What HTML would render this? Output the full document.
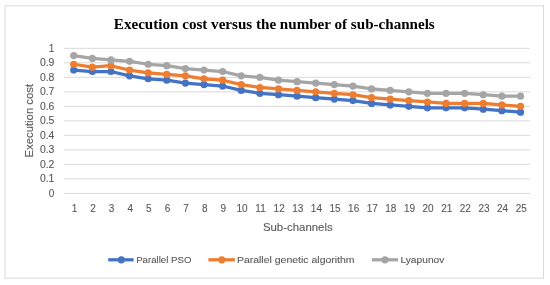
<!DOCTYPE html>
<html><head><meta charset="utf-8"><style>
html,body{margin:0;padding:0;background:#fff;}
body{width:550px;height:285px;overflow:hidden;position:relative;}
svg{position:absolute;left:0;top:0;will-change:transform;}
.ax{font-family:"Liberation Sans",sans-serif;font-size:10px;fill:#595959;stroke:#595959;stroke-width:0.1px;}
.at{font-family:"Liberation Sans",sans-serif;font-size:11.3px;fill:#595959;stroke:#595959;stroke-width:0.1px;}
.lg{font-family:"Liberation Sans",sans-serif;font-size:9.4px;fill:#595959;stroke:#595959;stroke-width:0.1px;}
.title{font-family:"Liberation Serif",serif;font-size:15.1px;font-weight:bold;fill:#000;}
</style></head><body>
<svg width="550" height="285" viewBox="0 0 550 285">
<rect x="5.05" y="5.8" width="538.45" height="272.4" fill="#fff" stroke="#d9d9d9" stroke-width="1"/>
<line x1="64.0" y1="193.40" x2="530.0" y2="193.40" stroke="#d9d9d9" stroke-width="1"/>
<line x1="64.0" y1="178.89" x2="530.0" y2="178.89" stroke="#d9d9d9" stroke-width="1"/>
<line x1="64.0" y1="164.38" x2="530.0" y2="164.38" stroke="#d9d9d9" stroke-width="1"/>
<line x1="64.0" y1="149.87" x2="530.0" y2="149.87" stroke="#d9d9d9" stroke-width="1"/>
<line x1="64.0" y1="135.36" x2="530.0" y2="135.36" stroke="#d9d9d9" stroke-width="1"/>
<line x1="64.0" y1="120.85" x2="530.0" y2="120.85" stroke="#d9d9d9" stroke-width="1"/>
<line x1="64.0" y1="106.34" x2="530.0" y2="106.34" stroke="#d9d9d9" stroke-width="1"/>
<line x1="64.0" y1="91.83" x2="530.0" y2="91.83" stroke="#d9d9d9" stroke-width="1"/>
<line x1="64.0" y1="77.32" x2="530.0" y2="77.32" stroke="#d9d9d9" stroke-width="1"/>
<line x1="64.0" y1="62.81" x2="530.0" y2="62.81" stroke="#d9d9d9" stroke-width="1"/>
<line x1="64.0" y1="48.30" x2="530.0" y2="48.30" stroke="#d9d9d9" stroke-width="1"/>
<text x="54.4" y="197.00" text-anchor="end" class="ax">0</text>
<text x="54.4" y="182.49" text-anchor="end" class="ax" textLength="14.5" lengthAdjust="spacingAndGlyphs">0.1</text>
<text x="54.4" y="167.98" text-anchor="end" class="ax" textLength="14.5" lengthAdjust="spacingAndGlyphs">0.2</text>
<text x="54.4" y="153.47" text-anchor="end" class="ax" textLength="14.5" lengthAdjust="spacingAndGlyphs">0.3</text>
<text x="54.4" y="138.96" text-anchor="end" class="ax" textLength="14.5" lengthAdjust="spacingAndGlyphs">0.4</text>
<text x="54.4" y="124.45" text-anchor="end" class="ax" textLength="14.5" lengthAdjust="spacingAndGlyphs">0.5</text>
<text x="54.4" y="109.94" text-anchor="end" class="ax" textLength="14.5" lengthAdjust="spacingAndGlyphs">0.6</text>
<text x="54.4" y="95.43" text-anchor="end" class="ax" textLength="14.5" lengthAdjust="spacingAndGlyphs">0.7</text>
<text x="54.4" y="80.92" text-anchor="end" class="ax" textLength="14.5" lengthAdjust="spacingAndGlyphs">0.8</text>
<text x="54.4" y="66.41" text-anchor="end" class="ax" textLength="14.5" lengthAdjust="spacingAndGlyphs">0.9</text>
<text x="54.4" y="51.90" text-anchor="end" class="ax">1</text>
<text x="74.41" y="211.5" text-anchor="middle" class="ax">1</text>
<text x="93.02" y="211.5" text-anchor="middle" class="ax">2</text>
<text x="111.64" y="211.5" text-anchor="middle" class="ax">3</text>
<text x="130.26" y="211.5" text-anchor="middle" class="ax">4</text>
<text x="148.87" y="211.5" text-anchor="middle" class="ax">5</text>
<text x="167.49" y="211.5" text-anchor="middle" class="ax">6</text>
<text x="186.10" y="211.5" text-anchor="middle" class="ax">7</text>
<text x="204.72" y="211.5" text-anchor="middle" class="ax">8</text>
<text x="223.34" y="211.5" text-anchor="middle" class="ax">9</text>
<text x="241.95" y="211.5" text-anchor="middle" class="ax">10</text>
<text x="260.57" y="211.5" text-anchor="middle" class="ax">11</text>
<text x="279.18" y="211.5" text-anchor="middle" class="ax">12</text>
<text x="297.80" y="211.5" text-anchor="middle" class="ax">13</text>
<text x="316.42" y="211.5" text-anchor="middle" class="ax">14</text>
<text x="335.03" y="211.5" text-anchor="middle" class="ax">15</text>
<text x="353.65" y="211.5" text-anchor="middle" class="ax">16</text>
<text x="372.26" y="211.5" text-anchor="middle" class="ax">17</text>
<text x="390.88" y="211.5" text-anchor="middle" class="ax">18</text>
<text x="409.50" y="211.5" text-anchor="middle" class="ax">19</text>
<text x="428.11" y="211.5" text-anchor="middle" class="ax">20</text>
<text x="446.73" y="211.5" text-anchor="middle" class="ax">21</text>
<text x="465.34" y="211.5" text-anchor="middle" class="ax">22</text>
<text x="483.96" y="211.5" text-anchor="middle" class="ax">23</text>
<text x="502.58" y="211.5" text-anchor="middle" class="ax">24</text>
<text x="521.19" y="211.5" text-anchor="middle" class="ax">25</text>
<polyline points="73.71,70.06 92.32,71.52 110.94,71.52 129.56,75.87 148.17,78.77 166.79,80.22 185.40,83.12 204.02,84.57 222.64,86.03 241.25,90.38 259.87,93.28 278.48,94.73 297.10,96.18 315.72,97.63 334.33,99.08 352.95,100.54 371.56,103.44 390.18,104.89 408.80,106.34 427.41,107.79 446.03,107.79 464.64,107.79 483.26,109.24 501.88,110.69 520.49,112.14" fill="none" stroke="#4472c4" stroke-width="3.25" stroke-linejoin="round" stroke-linecap="round"/>
<circle cx="73.71" cy="70.06" r="3.6" fill="#4472c4"/>
<circle cx="92.32" cy="71.52" r="3.6" fill="#4472c4"/>
<circle cx="110.94" cy="71.52" r="3.6" fill="#4472c4"/>
<circle cx="129.56" cy="75.87" r="3.6" fill="#4472c4"/>
<circle cx="148.17" cy="78.77" r="3.6" fill="#4472c4"/>
<circle cx="166.79" cy="80.22" r="3.6" fill="#4472c4"/>
<circle cx="185.40" cy="83.12" r="3.6" fill="#4472c4"/>
<circle cx="204.02" cy="84.57" r="3.6" fill="#4472c4"/>
<circle cx="222.64" cy="86.03" r="3.6" fill="#4472c4"/>
<circle cx="241.25" cy="90.38" r="3.6" fill="#4472c4"/>
<circle cx="259.87" cy="93.28" r="3.6" fill="#4472c4"/>
<circle cx="278.48" cy="94.73" r="3.6" fill="#4472c4"/>
<circle cx="297.10" cy="96.18" r="3.6" fill="#4472c4"/>
<circle cx="315.72" cy="97.63" r="3.6" fill="#4472c4"/>
<circle cx="334.33" cy="99.08" r="3.6" fill="#4472c4"/>
<circle cx="352.95" cy="100.54" r="3.6" fill="#4472c4"/>
<circle cx="371.56" cy="103.44" r="3.6" fill="#4472c4"/>
<circle cx="390.18" cy="104.89" r="3.6" fill="#4472c4"/>
<circle cx="408.80" cy="106.34" r="3.6" fill="#4472c4"/>
<circle cx="427.41" cy="107.79" r="3.6" fill="#4472c4"/>
<circle cx="446.03" cy="107.79" r="3.6" fill="#4472c4"/>
<circle cx="464.64" cy="107.79" r="3.6" fill="#4472c4"/>
<circle cx="483.26" cy="109.24" r="3.6" fill="#4472c4"/>
<circle cx="501.88" cy="110.69" r="3.6" fill="#4472c4"/>
<circle cx="520.49" cy="112.14" r="3.6" fill="#4472c4"/>
<polyline points="73.71,64.26 92.32,67.16 110.94,65.71 129.56,70.06 148.17,72.97 166.79,74.42 185.40,75.87 204.02,78.77 222.64,80.22 241.25,84.57 259.87,87.48 278.48,88.93 297.10,90.38 315.72,91.83 334.33,93.28 352.95,94.73 371.56,97.63 390.18,99.08 408.80,100.54 427.41,101.99 446.03,103.44 464.64,103.44 483.26,103.44 501.88,104.89 520.49,106.34" fill="none" stroke="#ed7d31" stroke-width="3.25" stroke-linejoin="round" stroke-linecap="round"/>
<circle cx="73.71" cy="64.26" r="3.6" fill="#ed7d31"/>
<circle cx="92.32" cy="67.16" r="3.6" fill="#ed7d31"/>
<circle cx="110.94" cy="65.71" r="3.6" fill="#ed7d31"/>
<circle cx="129.56" cy="70.06" r="3.6" fill="#ed7d31"/>
<circle cx="148.17" cy="72.97" r="3.6" fill="#ed7d31"/>
<circle cx="166.79" cy="74.42" r="3.6" fill="#ed7d31"/>
<circle cx="185.40" cy="75.87" r="3.6" fill="#ed7d31"/>
<circle cx="204.02" cy="78.77" r="3.6" fill="#ed7d31"/>
<circle cx="222.64" cy="80.22" r="3.6" fill="#ed7d31"/>
<circle cx="241.25" cy="84.57" r="3.6" fill="#ed7d31"/>
<circle cx="259.87" cy="87.48" r="3.6" fill="#ed7d31"/>
<circle cx="278.48" cy="88.93" r="3.6" fill="#ed7d31"/>
<circle cx="297.10" cy="90.38" r="3.6" fill="#ed7d31"/>
<circle cx="315.72" cy="91.83" r="3.6" fill="#ed7d31"/>
<circle cx="334.33" cy="93.28" r="3.6" fill="#ed7d31"/>
<circle cx="352.95" cy="94.73" r="3.6" fill="#ed7d31"/>
<circle cx="371.56" cy="97.63" r="3.6" fill="#ed7d31"/>
<circle cx="390.18" cy="99.08" r="3.6" fill="#ed7d31"/>
<circle cx="408.80" cy="100.54" r="3.6" fill="#ed7d31"/>
<circle cx="427.41" cy="101.99" r="3.6" fill="#ed7d31"/>
<circle cx="446.03" cy="103.44" r="3.6" fill="#ed7d31"/>
<circle cx="464.64" cy="103.44" r="3.6" fill="#ed7d31"/>
<circle cx="483.26" cy="103.44" r="3.6" fill="#ed7d31"/>
<circle cx="501.88" cy="104.89" r="3.6" fill="#ed7d31"/>
<circle cx="520.49" cy="106.34" r="3.6" fill="#ed7d31"/>
<polyline points="73.71,55.55 92.32,58.46 110.94,59.91 129.56,61.36 148.17,64.26 166.79,65.71 185.40,68.61 204.02,70.06 222.64,71.52 241.25,75.87 259.87,77.32 278.48,80.22 297.10,81.67 315.72,83.12 334.33,84.57 352.95,86.03 371.56,88.93 390.18,90.38 408.80,91.83 427.41,93.28 446.03,93.28 464.64,93.28 483.26,94.73 501.88,96.18 520.49,96.18" fill="none" stroke="#a5a5a5" stroke-width="3.25" stroke-linejoin="round" stroke-linecap="round"/>
<circle cx="73.71" cy="55.55" r="3.6" fill="#a5a5a5"/>
<circle cx="92.32" cy="58.46" r="3.6" fill="#a5a5a5"/>
<circle cx="110.94" cy="59.91" r="3.6" fill="#a5a5a5"/>
<circle cx="129.56" cy="61.36" r="3.6" fill="#a5a5a5"/>
<circle cx="148.17" cy="64.26" r="3.6" fill="#a5a5a5"/>
<circle cx="166.79" cy="65.71" r="3.6" fill="#a5a5a5"/>
<circle cx="185.40" cy="68.61" r="3.6" fill="#a5a5a5"/>
<circle cx="204.02" cy="70.06" r="3.6" fill="#a5a5a5"/>
<circle cx="222.64" cy="71.52" r="3.6" fill="#a5a5a5"/>
<circle cx="241.25" cy="75.87" r="3.6" fill="#a5a5a5"/>
<circle cx="259.87" cy="77.32" r="3.6" fill="#a5a5a5"/>
<circle cx="278.48" cy="80.22" r="3.6" fill="#a5a5a5"/>
<circle cx="297.10" cy="81.67" r="3.6" fill="#a5a5a5"/>
<circle cx="315.72" cy="83.12" r="3.6" fill="#a5a5a5"/>
<circle cx="334.33" cy="84.57" r="3.6" fill="#a5a5a5"/>
<circle cx="352.95" cy="86.03" r="3.6" fill="#a5a5a5"/>
<circle cx="371.56" cy="88.93" r="3.6" fill="#a5a5a5"/>
<circle cx="390.18" cy="90.38" r="3.6" fill="#a5a5a5"/>
<circle cx="408.80" cy="91.83" r="3.6" fill="#a5a5a5"/>
<circle cx="427.41" cy="93.28" r="3.6" fill="#a5a5a5"/>
<circle cx="446.03" cy="93.28" r="3.6" fill="#a5a5a5"/>
<circle cx="464.64" cy="93.28" r="3.6" fill="#a5a5a5"/>
<circle cx="483.26" cy="94.73" r="3.6" fill="#a5a5a5"/>
<circle cx="501.88" cy="96.18" r="3.6" fill="#a5a5a5"/>
<circle cx="520.49" cy="96.18" r="3.6" fill="#a5a5a5"/>
<text x="0" y="0" transform="translate(32.8,120.7) rotate(-90)" text-anchor="middle" class="at" textLength="73.6" lengthAdjust="spacingAndGlyphs">Execution cost</text>
<text x="297.8" y="230.5" text-anchor="middle" class="at" textLength="69.8" lengthAdjust="spacingAndGlyphs">Sub-channels</text>
<text x="274.3" y="29.4" text-anchor="middle" class="title">Execution cost versus the number of sub-channels</text>
<line x1="108.2" y1="259.8" x2="133.6" y2="259.8" stroke="#4472c4" stroke-width="3.25" stroke-linecap="butt"/>
<circle cx="121.3" cy="259.8" r="3.6" fill="#4472c4"/>
<text x="136.2" y="263.3" class="lg" textLength="55.2" lengthAdjust="spacingAndGlyphs">Parallel PSO</text>
<line x1="208.4" y1="259.8" x2="234.9" y2="259.8" stroke="#ed7d31" stroke-width="3.25" stroke-linecap="butt"/>
<circle cx="221.8" cy="259.8" r="3.6" fill="#ed7d31"/>
<text x="236.9" y="263.3" class="lg" textLength="117.7" lengthAdjust="spacingAndGlyphs">Parallel genetic algorithm</text>
<line x1="371.9" y1="259.8" x2="398.1" y2="259.8" stroke="#a5a5a5" stroke-width="3.25" stroke-linecap="butt"/>
<circle cx="385" cy="259.8" r="3.6" fill="#a5a5a5"/>
<text x="400.4" y="263.3" class="lg" textLength="44" lengthAdjust="spacingAndGlyphs">Lyapunov</text>
</svg>
</body></html>
